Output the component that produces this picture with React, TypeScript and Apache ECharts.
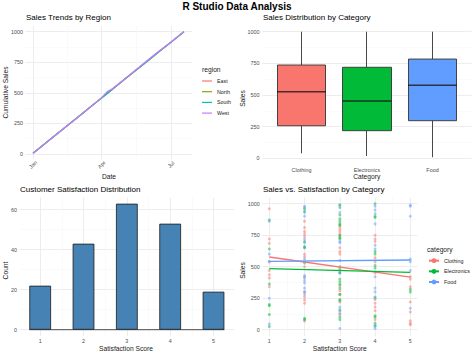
import React, { useEffect, useRef } from 'react';
import * as echarts from 'echarts';

// ---------- data ----------
const regions = ['East', 'North', 'South', 'West'];
const regionColors = ['#F8766D', '#7CAE00', '#00BFC4', '#C77CFF'];
const trendDates = ['2023-01-01', '2023-01-15', '2023-02-01', '2023-02-15', '2023-03-01', '2023-03-15', '2023-04-01', '2023-04-08', '2023-04-15', '2023-05-01', '2023-05-15', '2023-06-01', '2023-06-15', '2023-07-01', '2023-07-18'];
const eastCum = [5, 75, 161, 231, 301, 372, 457, 492, 527, 609, 679, 763, 834, 913, 1000];
const northCum = [6, 77, 163, 233, 303, 374, 459, 494, 530, 611, 681, 765, 836, 915, 1000];
const southCum = [6, 76, 162, 232, 302, 373, 458, 493, 529, 610, 680, 764, 835, 914, 1000];
const westCum = [6, 75, 161, 233, 301, 372, 461, 508, 534, 612, 683, 770, 840, 916, 1000];
const dateTicks = ['2023-01-01', '2023-04-01', '2023-07-01'];
const dateTickLabels = ['Jan', 'Apr', 'Jul'];
const dateMinorTicks = ['2023-02-15', '2023-05-16'];

const categories = ['Clothing', 'Electronics', 'Food'];
const categoryColors = ['#F8766D', '#00BA38', '#619CFF'];
const boxMin = [39, 18, 8];
const boxQ1 = [257, 218, 297];
const boxMedian = [526, 452, 577];
const boxQ3 = [737, 719, 784];
const boxMax = [1000, 1000, 1000];

const scores = [1, 2, 3, 4, 5];
const scoreCounts = [22, 43, 63, 53, 19];
const scoreMinorTicks = [1.5, 2.5, 3.5, 4.5];
const countTicks = [0, 20, 40, 60];
const countMinorTicks = [10, 30, 50];
const zeroBinRange = [0.75, 5.25];

const salesTicks = [0, 250, 500, 750, 1000];
const salesMinorTicks = [125, 375, 625, 875];

const clothingPoints = [
  [1, 960], [1, 720], [1, 685], [1, 540], [1, 470], [1, 436], [1, 410], [1, 341],
  [2, 860], [2, 810], [2, 780], [2, 760], [2, 740], [2, 600], [2, 580], [2, 500], [2, 420], [2, 300], [2, 260], [2, 235], [2, 210], [2, 70],
  [3, 820], [3, 800], [3, 780], [3, 760], [3, 740], [3, 650], [3, 620], [3, 600], [3, 460], [3, 350], [3, 310], [3, 280], [3, 220], [3, 130],
  [4, 750], [4, 720], [4, 700], [4, 570], [4, 540], [4, 450], [4, 240], [4, 210], [4, 180], [4, 150], [4, 80],
  [5, 420], [5, 400], [5, 340], [5, 220], [5, 140], [5, 70], [5, 50], [5, 40],
];
const electronicsPoints = [
  [1, 870], [1, 640], [1, 362], [1, 200], [1, 190], [1, 120], [1, 25],
  [2, 960], [2, 940], [2, 700], [2, 660], [2, 650], [2, 530], [2, 90], [2, 80],
  [3, 990], [3, 970], [3, 910], [3, 880], [3, 860], [3, 840], [3, 830], [3, 750], [3, 730], [3, 720], [3, 500], [3, 480], [3, 450], [3, 400], [3, 380], [3, 360], [3, 330], [3, 280], [3, 240], [3, 230], [3, 150], [3, 100], [3, 80],
  [4, 1000], [4, 900], [4, 890], [4, 620], [4, 600], [4, 510], [4, 490], [4, 260], [4, 110], [4, 100], [4, 50], [4, 30],
  [5, 320], [5, 300],
];
const foodPoints = [
  [1, 860], [1, 600], [1, 540], [1, 250], [1, 45],
  [2, 980], [2, 970], [2, 930], [2, 900], [2, 720], [2, 690], [2, 650], [2, 560], [2, 430], [2, 410], [2, 390], [2, 370], [2, 330], [2, 300], [2, 280],
  [3, 990], [3, 930], [3, 700], [3, 690], [3, 550], [3, 450], [3, 180], [3, 160], [3, 120], [3, 10],
  [4, 980], [4, 950], [4, 920], [4, 840], [4, 670], [4, 640], [4, 420], [4, 330], [4, 300], [4, 250], [4, 30], [4, 10],
  [5, 990], [5, 980], [5, 900], [5, 560], [5, 540], [5, 470], [5, 170],
];
const clothingFit = [[1, 577], [5, 418]];
const electronicsFit = [[1, 484], [5, 455]];
const foodFit = [[1, 543], [5, 553]];

// ---------- styling helpers ----------
const FONT = 'Liberation Sans, Arial, Helvetica, sans-serif';
const AX_TEXT = '#4D4D4D';
const MAJOR = '#E9E9E9';
const MINOR = '#F4F4F4';
const TICK_FS = 5.4;
const AXTITLE_FS = 6.7;

const dayOf = (s: string) => Math.round((Date.parse(s) - Date.parse('2023-01-01')) / 86400000);

function majorAxis(gridIndex: number, min: number, max: number, ticks: number[], extra: any = {}) {
  return {
    type: 'value', gridIndex, min, max,
    axisLine: { show: false },
    axisTick: { show: false, customValues: ticks },
    axisLabel: {
      customValues: ticks, fontSize: TICK_FS, color: AX_TEXT, fontFamily: FONT, margin: 2.5,
      formatter: (v: number) => String(v),
      ...(extra.axisLabel || {}),
    },
    splitLine: { show: true, lineStyle: { color: MAJOR, width: 0.8 } },
  };
}
function minorAxis(gridIndex: number, min: number, max: number, ticks: number[]) {
  return {
    type: 'value', gridIndex, min, max,
    axisLine: { show: false },
    axisTick: { show: false, customValues: ticks },
    axisLabel: { show: false },
    splitLine: { show: true, lineStyle: { color: MINOR, width: 0.5 } },
  };
}
function txt(text: string, x: number, y: number, size: number, opts: any = {}) {
  return {
    type: 'text', x, y, rotation: opts.rotation || 0, silent: true,
    style: {
      text, fontSize: size, fontFamily: FONT, fontWeight: opts.bold ? 'bold' : 'normal',
      fill: opts.color || '#1A1A1A', textAlign: opts.align || 'left', textVerticalAlign: 'middle',
    },
  };
}

export default function App() {
  const ref = useRef<HTMLDivElement>(null);
  useEffect(() => {
    if (!ref.current) return;
    const chart = echarts.init(ref.current, undefined, { renderer: 'svg' });
    const regionSeries = [eastCum, northCum, southCum, westCum];
    const dateTickDays = dateTicks.map(dayOf);

    const option: any = {
      animation: false,
      backgroundColor: '#FFFFFF',
      textStyle: { fontFamily: FONT },
      grid: [
        { left: 25.4, top: 26.2, width: 166.9, height: 133.3 },
        { left: 268.75, top: 25.4, width: 196.5, height: 139.2 },
        { left: 19.6, top: 197.4, width: 214.5, height: 138.6 },
        { left: 262.25, top: 197.4, width: 155.1, height: 138.6 },
        { left: 262, top: 25.4, width: 209.5, height: 139.2 },
      ],
      xAxis: [
        majorAxis(0, -10, 209, dateTickDays, {
          axisLabel: {
            rotate: 45, align: 'center', verticalAlign: 'middle', margin: 5,
            formatter: (v: number) => dateTickLabels[dateTickDays.indexOf(Math.round(v))] || '',
          },
        }),
        minorAxis(0, -10, 209, dateMinorTicks.map(dayOf)),
        {
          type: 'category', gridIndex: 1, data: categories,
          axisLine: { show: false }, axisTick: { show: false }, splitLine: { show: false },
          axisLabel: { interval: 0, fontSize: TICK_FS, color: AX_TEXT, fontFamily: FONT, margin: 2.5 },
        },
        majorAxis(2, 0.525, 5.475, scores),
        minorAxis(2, 0.525, 5.475, scoreMinorTicks),
        majorAxis(3, 0.8, 5.2, scores),
        minorAxis(3, 0.8, 5.2, scoreMinorTicks),
        { type: 'value', gridIndex: 4, min: 0, max: 1, show: false },
      ],
      yAxis: [
        majorAxis(0, -45, 1045, salesTicks),
        minorAxis(0, -45, 1045, salesMinorTicks),
        { type: 'value', gridIndex: 1, min: -50, max: 1050, axisLine: { show: false }, axisTick: { show: false }, axisLabel: { show: false }, splitLine: { show: false } },
        majorAxis(2, -3.15, 66.15, countTicks),
        minorAxis(2, -3.15, 66.15, countMinorTicks),
        majorAxis(3, -50, 1050, salesTicks),
        minorAxis(3, -50, 1050, salesMinorTicks),
        majorAxis(4, -50, 1050, salesTicks),
        minorAxis(4, -50, 1050, salesMinorTicks),
      ],
      legend: [
        {
          orient: 'vertical', left: 202, top: 78, padding: 0,
          itemWidth: 10, itemHeight: 6, itemGap: 4.7,
          icon: 'path://M0,0H10V1.2H0Z',
          data: regions,
          textStyle: { fontSize: 5.3, lineHeight: 6, color: '#1A1A1A', fontFamily: FONT },
          selectedMode: false,
        },
        {
          orient: 'vertical', left: 428, top: 257.7, padding: 0,
          itemWidth: 10, itemHeight: 6, itemGap: 4.65,
          data: categories,
          textStyle: { fontSize: 5.3, lineHeight: 6, color: '#1A1A1A', fontFamily: FONT },
          selectedMode: false,
        },
      ],
      series: [
        ...regions.map((r, k) => ({
          type: 'line', name: r, xAxisIndex: 0, yAxisIndex: 0,
          data: trendDates.map((d, i) => [dayOf(d), regionSeries[k][i]]),
          symbol: 'none', showSymbol: false,
          lineStyle: { width: 1.2, color: regionColors[k] },
          itemStyle: { color: regionColors[k] },
          z: 2 + k,
        })),
        {
          type: 'candlestick', xAxisIndex: 2, yAxisIndex: 2, barWidth: 49,
          data: categories.map((c, i) => ({
            value: [boxQ1[i], boxQ3[i], boxMin[i], boxMax[i]],
            itemStyle: { color: categoryColors[i], color0: categoryColors[i], borderColor: '#333333', borderColor0: '#333333', borderWidth: 0.9 },
          })),
        },
        {
          type: 'scatter', xAxisIndex: 2, yAxisIndex: 2, symbol: 'rect', symbolSize: [49, 1.6],
          data: categories.map((c, i) => [c, boxMedian[i]]),
          itemStyle: { color: '#1A1A1A' }, z: 5, silent: true,
        },
        {
          type: 'line', xAxisIndex: 3, yAxisIndex: 3, symbol: 'none',
          data: zeroBinRange.map((x) => [x, 0]),
          lineStyle: { color: '#3A3A3A', width: 0.9 }, z: 1, silent: true,
        },
        {
          type: 'bar', xAxisIndex: 3, yAxisIndex: 3, barWidth: 21.7,
          data: scores.map((s, i) => [s, scoreCounts[i]]),
          itemStyle: { color: '#4682B4', borderColor: '#1A1A1A', borderWidth: 0.8 },
          z: 2,
        },
        ...[clothingFit, electronicsFit, foodFit].map((fit, k) => ({
          type: 'line', name: categories[k], xAxisIndex: 5, yAxisIndex: 5,
          data: fit, symbol: 'circle', symbolSize: 3, showSymbol: false,
          lineStyle: { width: 1.3, color: categoryColors[k] },
          itemStyle: { color: categoryColors[k] },
          z: 4,
        })),
        ...[clothingPoints, electronicsPoints, foodPoints].map((pts, k) => ({
          type: 'scatter', name: categories[k], xAxisIndex: 5, yAxisIndex: 5,
          data: pts, symbolSize: 3,
          itemStyle: { color: categoryColors[k], opacity: 0.5 },
          z: 3,
        })),
      ],
      graphic: [
        txt('R Studio Data Analysis', 237, 6, 10, { bold: true, align: 'center', color: '#000' }),
        txt('Sales Trends by Region', 26, 17, 8, { color: '#000' }),
        txt('Sales Distribution by Category', 263, 17, 8, { color: '#000' }),
        txt('Customer Satisfaction Distribution', 20, 189.5, 8, { color: '#000' }),
        txt('Sales vs. Satisfaction by Category', 263, 189.7, 8, { color: '#000' }),
        txt('Date', 109, 176.7, AXTITLE_FS, { align: 'center' }),
        txt('Cumulative Sales', 5.8, 92.5, AXTITLE_FS, { align: 'center', rotation: Math.PI / 2 }),
        txt('Category', 366.7, 176.7, AXTITLE_FS, { align: 'center' }),
        txt('Sales', 242.6, 98.5, AXTITLE_FS, { align: 'center', rotation: Math.PI / 2 }),
        txt('Satisfaction Score', 126, 348.3, AXTITLE_FS, { align: 'center' }),
        txt('Count', 5.8, 270.5, AXTITLE_FS, { align: 'center', rotation: Math.PI / 2 }),
        txt('Satisfaction Score', 339.7, 348.2, AXTITLE_FS, { align: 'center' }),
        txt('Sales', 242.6, 270.5, AXTITLE_FS, { align: 'center', rotation: Math.PI / 2 }),
        txt('region', 202, 69, AXTITLE_FS),
        txt('category', 427, 249, AXTITLE_FS),
      ],
    };
    chart.setOption(option);
    return () => chart.dispose();
  }, []);
  return <div ref={ref} style={{ position: 'fixed', left: 0, top: 0, width: 474, height: 355, background: '#fff' }} />;
}
